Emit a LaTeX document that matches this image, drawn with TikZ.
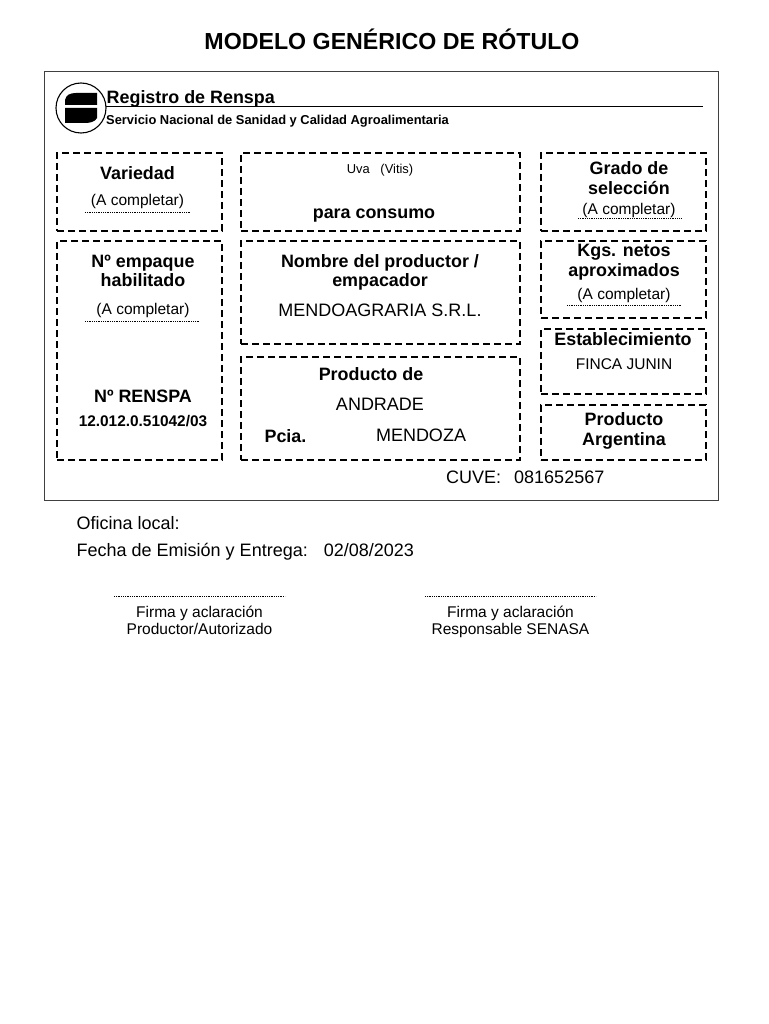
\documentclass[tikz,border=0pt]{standalone}
\usepackage{fontspec}
\setmainfont{Liberation Sans}
\usetikzlibrary{positioning}
\tikzset{
	dbox/.style={draw=black, line width=1.3pt, dash pattern=on 7pt off 4pt, inner sep=0pt},
	boldlab/.style={font=\bfseries\fontsize{17.9}{19.7}\selectfont, align=center, inner sep=0pt},
	smallbold/.style={font=\bfseries\fontsize{15.4}{17}\selectfont, align=center, inner sep=0pt},
	lab/.style={font=\fontsize{15.5}{17}\selectfont, align=center, inner sep=0pt},
	biglab/.style={font=\fontsize{18}{20}\selectfont, inner sep=0pt},
	tinylab/.style={font=\fontsize{12.9}{15}\selectfont, inner sep=0pt},
	dotline/.style={black, line width=0.6pt, dash pattern=on 0.8pt off 1pt},
}
\begin{document}
\begin{tikzpicture}[x=1pt, y=-1pt]
	\useasboundingbox[fill=white] (0,0) rectangle (768,1024);
	\node[font=\bfseries\fontsize{23.2}{26}\selectfont, inner sep=0pt] (title) at (392,39) {MODELO GENÉRICO DE RÓTULO};
	\node[draw=black!75, line width=1pt, minimum width=674pt, minimum height=428pt, inner sep=0pt] (outer) at (381,286) {};

	% header
	\node[draw=black, circle, line width=1.1pt, minimum size=50pt, inner sep=0pt] (logo) at (81,108) {};
	\fill[black] (65,105) -- (65,100) .. controls (66,95) and (70,93) .. (76,93) -- (97,93) -- (97,105) -- cycle;
	\fill[black] (65,108) -- (97,108) -- (97,118) .. controls (95,122) and (90,123) .. (84,123) -- (65,123) -- cycle;
	\node[font=\bfseries\fontsize{17.9}{20}\selectfont, anchor=base west, inner sep=0pt] (registro) at (106.5,104) {Registro de Renspa};
	\coordinate (ruleA) at (106,107);
	\coordinate (ruleB) at (703,107);
	\draw[black, line width=1pt] (ruleA) -- (ruleB);
	\node[font=\bfseries\fontsize{12.9}{15}\selectfont, anchor=base west, inner sep=0pt] (servicio) at (106,124.5) {Servicio Nacional de Sanidad y Calidad Agroalimentaria};

	% dashed boxes
	\node[dbox, minimum width=165pt, minimum height=78pt] (variedad) at (139.5,192) {};
	\node[dbox, minimum width=279pt, minimum height=78pt] (uva) at (380.5,192) {};
	\node[dbox, minimum width=165pt, minimum height=78pt] (grado) at (623.5,192) {};
	\node[dbox, minimum width=165pt, minimum height=219pt] (empaque) at (139.5,350.5) {};
	\node[dbox, minimum width=279pt, minimum height=103pt] (nombre) at (380.5,292.5) {};
	\node[dbox, minimum width=279pt, minimum height=103pt] (producto) at (380.5,408.5) {};
	\node[dbox, minimum width=165pt, minimum height=77pt] (kgs) at (623.5,279.5) {};
	\node[dbox, minimum width=165pt, minimum height=65pt] (estab) at (623.5,361.5) {};
	\node[dbox, minimum width=165pt, minimum height=55pt] (argentina) at (623.5,432.5) {};

	% texts
	\node[boldlab] (tvariedad) at (137.5,173) {Variedad};
	\node[lab] (cvariedad) at (137.5,201) {(A completar)};
	\node[tinylab] (tuva) at (380,170) {Uva \ \ (Vitis)};
	\node[boldlab] (tconsumo) at (374,216) {para consumo};
	\node[boldlab] (tgrado) at (629,178) {Grado de\\selección};
	\node[lab] (cgrado) at (629,210) {(A completar)};
	\node[boldlab] (tempaque) at (143,271) {Nº empaque\\habilitado};
	\node[lab] (cempaque) at (143,310) {(A completar)};
	\node[boldlab] (trenspa) at (143,396) {Nº RENSPA};
	\node[smallbold] (nrenspa) at (143,421) {12.012.0.51042/03};
	\node[boldlab] (tnombre) at (380,272.5) {Nombre del productor /\\empacador};
	\node[biglab] (mendo) at (380,310) {MENDOAGRARIA S.R.L.};
	\node[boldlab] (tproducto) at (371,374) {Producto de};
	\node[biglab] (andrade) at (380,404.5) {ANDRADE};
	\node[boldlab] (pcia) at (285.5,436) {Pcia.};
	\node[biglab] (mendoza) at (421,435.5) {MENDOZA};
	\node[boldlab] (tkgs) at (624,262) {Kgs. netos\\aproximados};
	\node[lab] (ckgs) at (624,295) {(A completar)};
	\node[boldlab] (testab) at (623,339) {Establecimiento};
	\node[lab] (finca) at (624,364) {FINCA JUNIN};
	\node[boldlab] (targentina) at (624,431) {Producto\\Argentina};
	\node[biglab, anchor=base west] (cuve) at (446,483.5) {CUVE:\hspace*{13pt}081652567};

	% dotted rules
	\coordinate (dva) at (85,212);
	\coordinate (dvb) at (190,212);
	\draw[dotline] (dva) -- (dvb);
	\coordinate (dea) at (85,321);
	\coordinate (deb) at (200,321);
	\draw[dotline] (dea) -- (deb);
	\coordinate (dga) at (578,218);
	\coordinate (dgb) at (682,218);
	\draw[dotline] (dga) -- (dgb);
	\coordinate (dka) at (567,305);
	\coordinate (dkb) at (682,305);
	\draw[dotline] (dka) -- (dkb);

	% below the frame
	\node[biglab, anchor=base west] (oficina) at (76.5,529.5) {Oficina local:};
	\node[biglab, anchor=base west] (fecha) at (76.5,556) {Fecha de Emisión y Entrega:\hspace*{16pt}02/08/2023};
	\coordinate (fa) at (114,596);
	\coordinate (fb) at (285,596);
	\draw[dotline, line width=0.4pt] (fa) -- (fb);
	\coordinate (ga) at (425,596);
	\coordinate (gb) at (596,596);
	\draw[dotline, line width=0.4pt] (ga) -- (gb);
	\node[lab] (firmaA) at (199.5,620) {Firma y aclaración\\Productor/Autorizado};
	\node[lab] (firmaB) at (510.5,622) {Firma y aclaración\\Responsable SENASA};
\end{tikzpicture}
\end{document}
